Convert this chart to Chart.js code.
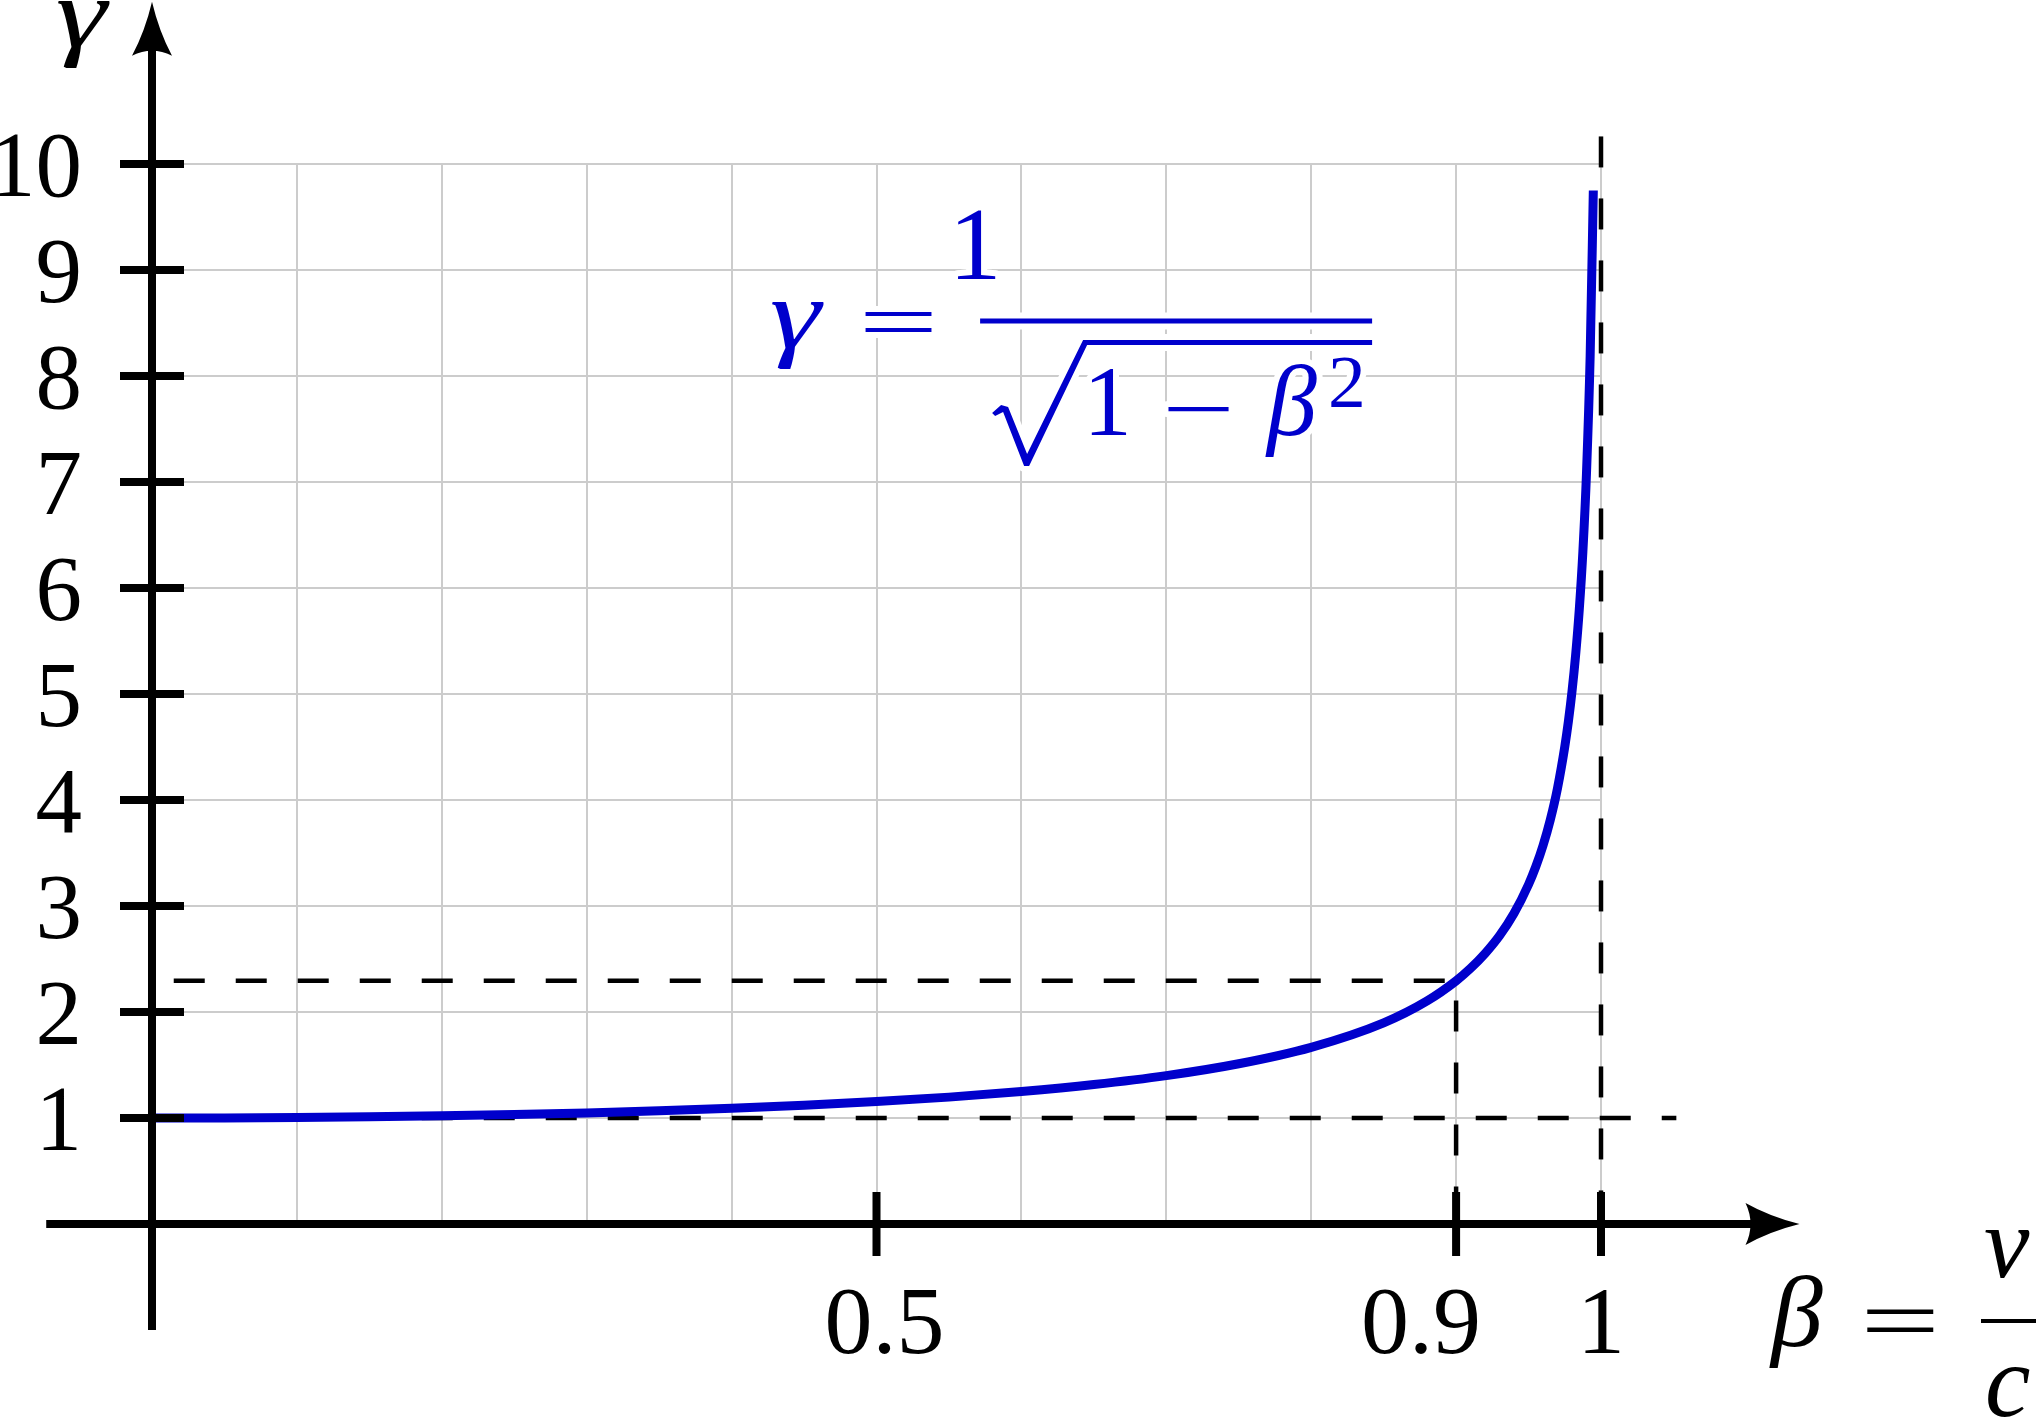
<!DOCTYPE html>
<html>
<head>
<meta charset="utf-8">
<script src="https://cdn.jsdelivr.net/npm/chart.js@4.4.1/dist/chart.umd.min.js"></script>
<style>
  html, body { margin: 0; padding: 0; background: #fff; }
  #wrap { width: 2036px; height: 1420px; }
</style>
</head>
<body>
<div id="wrap"><canvas id="gammaChart" width="2036" height="1420"></canvas></div>
<script>
// lorentz factor curve
const beta  = [0, 0.05, 0.1, 0.15, 0.2, 0.25, 0.3, 0.35, 0.4, 0.45, 0.5, 0.55, 0.6, 0.65, 0.7, 0.75, 0.8, 0.85, 0.88,
               0.9, 0.91, 0.92, 0.93, 0.94, 0.95, 0.955, 0.96, 0.965, 0.97, 0.975, 0.9775, 0.98, 0.9825, 0.985,
               0.9875, 0.99, 0.9925, 0.9947];
const gamma = [1, 1.001, 1.005, 1.011, 1.021, 1.033, 1.048, 1.068, 1.091, 1.12, 1.155, 1.197, 1.25, 1.316, 1.40, 1.512, 1.667, 1.898, 2.105,
               2.294, 2.412, 2.552, 2.72, 2.931, 3.203, 3.371, 3.571, 3.813, 4.113, 4.502, 4.741, 5.025, 5.369, 5.795,
               6.344, 7.089, 8.18, 9.75];

// dashed guide lines
const guideNineX  = [0.015, 0.9, 0.9];
const guideNineY  = [2.294, 2.294, 0];
const guideOneX   = [0.015, 1.052];
const guideOneY   = [1, 1];
const guideLimitX = [1, 1];
const guideLimitY = [10.26, 0];

// axis ticks
const xTickValues = [0.5, 0.9, 1];
const xTickLabels = ['0.5', '0.9', '1'];
const yTickValues = [1, 2, 3, 4, 5, 6, 7, 8, 9, 10];
const yTickLabels = ['1', '2', '3', '4', '5', '6', '7', '8', '9', '10'];

const BLUE = '#0000cc';
const FAMILY = '"Liberation Serif", "DejaVu Serif", serif';

const toPoints = (xs, ys) => xs.map((v, i) => ({ x: v, y: ys[i] }));

// draw text so that its ink fills the given box
function inkBox(ctx, text, l, t, r, b, italic, color, halo) {
  ctx.save();
  ctx.textAlign = 'left';
  ctx.textBaseline = 'alphabetic';
  ctx.font = (italic ? 'italic ' : '') + '100px ' + FAMILY;
  const m = ctx.measureText(text);
  const iw = m.actualBoundingBoxLeft + m.actualBoundingBoxRight;
  const ih = m.actualBoundingBoxAscent + m.actualBoundingBoxDescent;
  const sx = (r - l) / iw, sy = (b - t) / ih;
  ctx.translate(l, t);
  ctx.scale(sx, sy);
  if (halo) {
    ctx.strokeStyle = '#fff';
    ctx.lineWidth = halo / Math.min(sx, sy);
    ctx.lineJoin = 'round';
    ctx.strokeText(text, m.actualBoundingBoxLeft, m.actualBoundingBoxAscent);
  }
  ctx.fillStyle = color;
  ctx.fillText(text, m.actualBoundingBoxLeft, m.actualBoundingBoxAscent);
  ctx.restore();
}

function arrowHead(ctx, tx, ty, dx, dy, len, half) {
  // dx,dy : unit direction of the arrow
  const nx = -dy, ny = dx;
  const bx = tx - dx * len, by = ty - dy * len;
  ctx.beginPath();
  ctx.moveTo(tx, ty);
  ctx.quadraticCurveTo(tx - dx * len * 0.55 + nx * half * 0.35, ty - dy * len * 0.55 + ny * half * 0.35,
                       bx + nx * half, by + ny * half);
  ctx.quadraticCurveTo(bx + dx * 10, by + dy * 10, bx - nx * half, by - ny * half);
  ctx.quadraticCurveTo(tx - dx * len * 0.55 - nx * half * 0.35, ty - dy * len * 0.55 - ny * half * 0.35,
                       tx, ty);
  ctx.closePath();
  ctx.fill();
}

const axesPlugin = {
  id: 'axesPlugin',
  afterDatasetsDraw(chart) {
    const ctx = chart.ctx;
    const xs = chart.scales.x, ys = chart.scales.y;
    const px = v => xs.getPixelForValue(v);
    const py = v => ys.getPixelForValue(v);
    const x0 = px(0), y0 = py(0);

    ctx.save();
    ctx.strokeStyle = '#000';
    ctx.fillStyle = '#000';
    ctx.lineCap = 'butt';
    ctx.lineWidth = 8;

    // axes
    ctx.beginPath();
    ctx.moveTo(px(-0.073), y0);
    ctx.lineTo(px(1.11), y0);
    ctx.moveTo(x0, py(-1.0));
    ctx.lineTo(x0, py(11.1));
    ctx.stroke();
    arrowHead(ctx, px(1.137), y0, 1, 0, 54, 21);
    arrowHead(ctx, x0, py(11.53), 0, -1, 54, 20);

    // ticks
    ctx.beginPath();
    yTickValues.forEach(v => { ctx.moveTo(x0 - 32, py(v)); ctx.lineTo(x0 + 32, py(v)); });
    xTickValues.forEach(v => { ctx.moveTo(px(v), y0 - 32); ctx.lineTo(px(v), y0 + 32); });
    ctx.stroke();

    // tick labels
    ctx.font = '93px ' + FAMILY;
    ctx.textAlign = 'right';
    ctx.textBaseline = 'alphabetic';
    yTickValues.forEach((v, i) => ctx.fillText(yTickLabels[i], x0 - 70, py(v) + 32));
    ctx.font = '96px ' + FAMILY;
    ctx.textAlign = 'center';
    const shift = { '0.5': 8, '0.9': -35, '1': 0 };
    xTickValues.forEach((v, i) => ctx.fillText(xTickLabels[i], px(v) + shift[xTickLabels[i]], y0 + 129));

    // axis titles
    inkBox(ctx, 'γ', x0 - 95, 2, x0 - 42, 68, true, '#000');
    inkBox(ctx, 'β', 1769, 1275, 1823, 1367, true, '#000');
    inkBox(ctx, '=', 1866, 1310, 1934, 1332, false, '#000');
    ctx.fillRect(1981, 1319, 60, 4);
    inkBox(ctx, 'v', 1985, 1230, 2030, 1278, true, '#000');
    inkBox(ctx, 'c', 1988, 1367, 2030, 1417, true, '#000');
    ctx.restore();

    // formula, anchored at the left end of the fraction bar
    const ax = px(0.5715), ay = py(8.52);
    const F = (dx, dy) => [ax + dx, ay + dy];
    ctx.save();
    const at = (t, l, tp, r, b, it) => {
      const [L, T] = F(l, tp), [R, B] = F(r, b);
      inkBox(ctx, t, L, T, R, B, it, BLUE, 12);
    };
    at('γ', -209, -19, -156, 48, true);
    at('=', -116, -9, -48, 11, false);
    at('1', -23, -111, 15, -42, false);
    at('1', 111, 48, 146, 114, false);
    at('\u2212', 187, 86, 249, 91, false);
    at('β', 285, 43, 337, 135, true);
    at('2', 351, 37, 382, 87, false);

    // fraction bar and radical
    const bar = [F(0, -2.5), F(392, -2.5), F(392, 2.5), F(0, 2.5)];
    const rad = [F(12, 92), F(21, 84), F(28, 86), F(47, 133), F(103, 19), F(392, 19),
                 F(392, 24), F(107, 24), F(49, 145), F(44, 145), F(23, 91), F(15, 95)];
    [bar, rad].forEach(poly => {
      ctx.beginPath();
      poly.forEach((p, i) => i ? ctx.lineTo(p[0], p[1]) : ctx.moveTo(p[0], p[1]));
      ctx.closePath();
      ctx.strokeStyle = '#fff';
      ctx.lineWidth = 12;
      ctx.lineJoin = 'round';
      ctx.stroke();
    });
    [bar, rad].forEach(poly => {
      ctx.beginPath();
      poly.forEach((p, i) => i ? ctx.lineTo(p[0], p[1]) : ctx.moveTo(p[0], p[1]));
      ctx.closePath();
      ctx.fillStyle = BLUE;
      ctx.fill();
    });
    ctx.restore();
  }
};

const guideStyle = {
  borderColor: '#000',
  borderWidth: 4.5,
  borderDash: [31, 31],
  pointRadius: 0,
  tension: 0,
  clip: false,
  order: 1
};

const config = {
  type: 'line',
  data: {
    datasets: [
      {
        data: toPoints(beta, gamma),
        borderColor: BLUE,
        borderWidth: 9,
        pointRadius: 0,
        cubicInterpolationMode: 'monotone',
        clip: false,
        order: 0
      },
      Object.assign({ data: toPoints(guideNineX, guideNineY) }, guideStyle),
      Object.assign({ data: toPoints(guideOneX, guideOneY) }, guideStyle),
      Object.assign({ data: toPoints(guideLimitX, guideLimitY) }, guideStyle)
    ]
  },
  plugins: [axesPlugin],
  options: {
    responsive: false,
    animation: false,
    devicePixelRatio: 1,
    events: [],
    layout: { padding: { left: 152, right: 435, top: 164, bottom: 196 } },
    plugins: { legend: { display: false }, tooltip: { enabled: false } },
    scales: {
      x: {
        type: 'linear', min: 0, max: 1,
        ticks: { display: false, stepSize: 0.1 },
        grid: { color: '#cccccc', lineWidth: 2, drawTicks: false },
        border: { display: false },
        afterFit: s => { s.height = 0; }
      },
      y: {
        type: 'linear', min: 0, max: 10,
        ticks: { display: false, stepSize: 1 },
        grid: { color: '#cccccc', lineWidth: 2, drawTicks: false },
        border: { display: false },
        afterFit: s => { s.width = 0; }
      }
    }
  }
};

const gammaChart = new Chart(document.getElementById('gammaChart'), config);
</script>
</body>
</html>
